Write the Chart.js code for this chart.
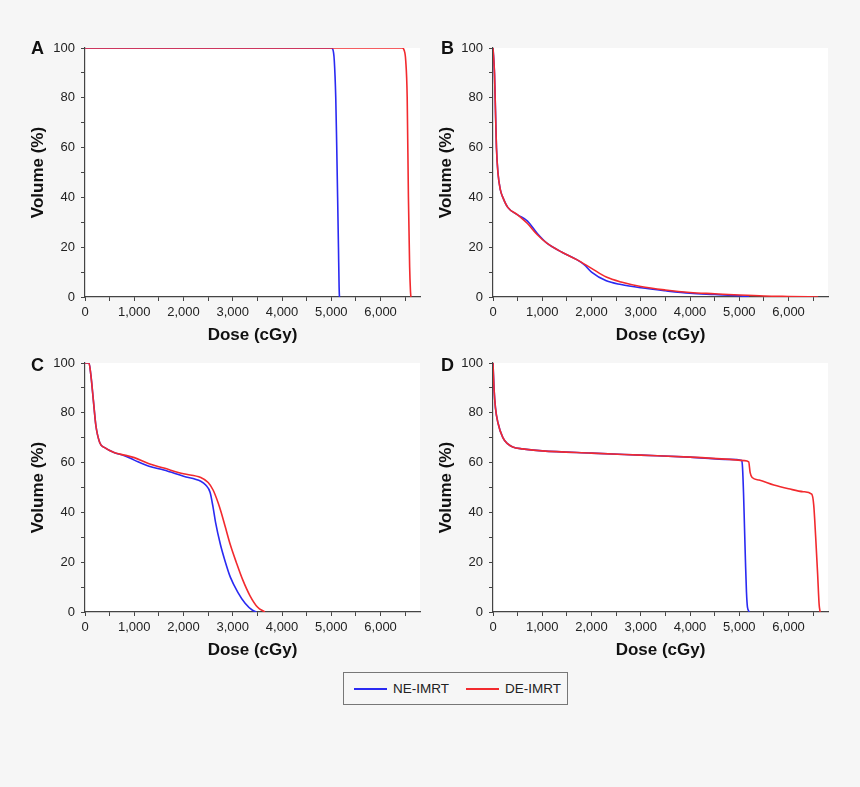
<!DOCTYPE html>
<html lang="en">
<head>
  <meta charset="UTF-8">
  <title>Dose-volume histograms</title>
  <script src="https://cdn.jsdelivr.net/npm/chart.js"></script>
  <style>
    body {
      margin: 0;
      padding: 0;
      background: #f6f6f6;
      font-family: 'Liberation Sans', Arial, Helvetica, sans-serif;
    }
    #page {
      position: relative;
      width: 860px;
      height: 787px;
    }
    canvas {
      position: absolute;
    }
    .letter {
      position: absolute;
      font-weight: bold;
      font-size: 18px;
      color: #111;
      line-height: 18px;
    }
    #legend {
      position: absolute;
      left: 343px;
      top: 672px;
      width: 223px;
      height: 31px;
      border: 1px solid #777;
      font-size: 13.5px;
      color: #222;
    }
    #legend .txt {
      position: absolute;
      top: 8px;
    }
    #legend .swatch {
      position: absolute;
      top: 15px;
      width: 33px;
      height: 2px;
    }
  </style>
</head>
<body>
<div id="page">
  <canvas id="chartA" width="410" height="320" style="left:20px;top:30px"></canvas>
  <canvas id="chartB" width="410" height="320" style="left:428px;top:30px"></canvas>
  <canvas id="chartC" width="410" height="320" style="left:20px;top:345px"></canvas>
  <canvas id="chartD" width="410" height="320" style="left:428px;top:345px"></canvas>
  <div class="letter" style="left:31px;top:39px">A</div>
  <div class="letter" style="left:441px;top:39px">B</div>
  <div class="letter" style="left:31px;top:356px">C</div>
  <div class="letter" style="left:441px;top:356px">D</div>
  <div id="legend">
    <div class="swatch" style="left:10px;background-color:#2a2af2"></div>
    <span class="txt" style="left:49px">NE-IMRT</span>
    <div class="swatch" style="left:122px;background-color:#f22a2e"></div>
    <span class="txt" style="left:161px">DE-IMRT</span>
  </div>
</div>
<script>
  const seriesNames = ['NE-IMRT', 'DE-IMRT'];
  const seriesColors = ['#2a2af2', '#f22a2e'];
  const doseTicks = [0, 500, 1000, 1500, 2000, 2500, 3000, 3500, 4000, 4500, 5000, 5500, 6000, 6500];
  const volumeTicks = [0, 10, 20, 30, 40, 50, 60, 70, 80, 90, 100];

  // Panel A
  const doseA_NE = [0, 5000, 5030, 5060, 5090, 5110, 5128, 5145, 5158, 5165];
  const volA_NE  = [100, 100, 99.5, 95, 80, 60, 40, 20, 4, 0];
  const doseA_DE = [0, 6440, 6480, 6510, 6540, 6565, 6590, 6605, 6615];
  const volA_DE  = [100, 100, 99, 95, 80, 40, 12, 3, 0];

  // Panel B
  const doseB_NE = [0, 30, 50, 70, 100, 150, 200, 300, 500, 700, 900, 1100, 1400, 1700, 1850, 2000, 2300, 2600, 3000, 3500, 4000, 4500, 5000, 5200];
  const volB_NE  = [100, 90, 75, 60, 50, 43, 40, 36, 33, 30.5, 25.5, 21.5, 18, 15, 13, 10, 6.5, 5, 3.7, 2.5, 1.5, 1, 0.5, 0];
  const doseB_DE = [0, 30, 50, 70, 100, 150, 200, 300, 500, 700, 900, 1100, 1400, 1700, 2000, 2300, 2600, 3000, 3500, 4000, 4500, 5000, 5500, 6000, 6600];
  const volB_DE  = [100, 90, 75, 60, 50, 43, 40, 36, 33, 29.5, 25, 21.5, 18, 15, 11.5, 8, 6, 4.2, 2.8, 1.8, 1.3, 0.8, 0.4, 0.2, 0];

  // Panel C
  const doseC_NE = [0, 80, 120, 170, 220, 300, 400, 600, 800, 1000, 1300, 1600, 2000, 2350, 2450, 2540, 2600, 2650, 2750, 2850, 2950, 3100, 3250, 3400, 3480];
  const volC_NE  = [100, 100, 95, 85, 75, 68, 66, 64, 62.8, 61, 58.5, 57, 54.5, 52.5, 51, 48, 42, 36, 27, 20, 14, 8, 3.5, 0.7, 0];
  const doseC_DE = [0, 80, 120, 170, 220, 300, 400, 600, 800, 1000, 1300, 1600, 2000, 2350, 2500, 2600, 2700, 2765, 2850, 2950, 3070, 3200, 3350, 3500, 3650];
  const volC_DE  = [100, 100, 95, 85, 75, 68, 66, 64, 63, 62, 59.5, 57.8, 55.5, 54, 52, 49, 44, 40, 34, 27, 20, 13, 6.5, 2, 0];

  // Panel D
  const doseD_NE = [0, 20, 50, 100, 200, 300, 400, 600, 1000, 2000, 3000, 4000, 4800, 5050, 5065, 5085, 5105, 5125, 5145, 5165, 5205];
  const volD_NE  = [100, 90, 82, 76, 70, 67.5, 66.3, 65.5, 64.7, 63.8, 63, 62.2, 61.3, 60.8, 58, 48, 34, 20, 8, 2, 0];
  const doseD_DE = [0, 20, 50, 100, 200, 300, 400, 600, 1000, 2000, 3000, 4000, 4800, 5100, 5190, 5220, 5260, 5400, 5700, 6000, 6300, 6470, 6510, 6550, 6590, 6620, 6640];
  const volD_DE  = [100, 90, 82, 76, 70, 67.5, 66.3, 65.5, 64.7, 63.8, 63, 62.2, 61.3, 60.8, 60.3, 56, 54, 53, 51, 49.5, 48.3, 47.3, 43, 30, 15, 3, 0];

  const tickFont = { family: "'Liberation Sans', Arial, sans-serif", size: 13 };
  const titleFont = { family: "'Liberation Sans', Arial, sans-serif", size: 17, weight: 'bold' };

  // white plot area on grey page
  const plotBackground = {
    id: 'plotBackground',
    beforeDraw(chart) {
      const { ctx, chartArea } = chart;
      ctx.save();
      ctx.fillStyle = '#ffffff';
      ctx.fillRect(chartArea.left, chartArea.top, chartArea.right - chartArea.left, chartArea.bottom - chartArea.top);
      ctx.restore();
    }
  };

  function points(dose, vol) {
    return dose.map((d, i) => ({ x: d, y: vol[i] }));
  }

  function makeChart(id, ne, de) {
    new Chart(document.getElementById(id), {
      type: 'line',
      data: {
        datasets: [
          { label: seriesNames[1], data: points(de[0], de[1]), borderColor: seriesColors[1] },
          { label: seriesNames[0], data: points(ne[0], ne[1]), borderColor: seriesColors[0] }
        ]
      },
      options: {
        responsive: false,
        animation: false,
        devicePixelRatio: 1,
        layout: { padding: { top: 18, right: 10, left: 0, bottom: 0 } },
        elements: {
          point: { radius: 0 },
          line: { borderWidth: 1.6, cubicInterpolationMode: 'monotone' }
        },
        plugins: {
          legend: { display: false },
          tooltip: { enabled: false }
        },
        scales: {
          x: {
            type: 'linear',
            min: 0,
            max: 6800,
            afterBuildTicks: (s) => { s.ticks = doseTicks.map(v => ({ value: v })); },
            afterFit: (s) => { s.height = 53; },
            ticks: {
              autoSkip: false,
              maxRotation: 0,
              padding: 4,
              color: '#222',
              font: tickFont,
              callback: (v) => v % 1000 === 0 ? v.toLocaleString('en-US') : ''
            },
            grid: { drawOnChartArea: false, tickLength: 4, color: '#444' },
            border: { color: '#444', width: 1.2 },
            title: { display: true, text: 'Dose (cGy)', color: '#111', font: titleFont, padding: { top: 0, bottom: 4 } }
          },
          y: {
            min: 0,
            max: 100,
            afterBuildTicks: (s) => { s.ticks = volumeTicks.map(v => ({ value: v })); },
            afterFit: (s) => { s.width = 65; },
            ticks: {
              autoSkip: false,
              padding: 6,
              color: '#222',
              font: tickFont,
              callback: (v) => v % 20 === 0 ? v : ''
            },
            grid: { drawOnChartArea: false, tickLength: 4, color: '#444' },
            border: { color: '#444', width: 1.2 },
            title: { display: true, text: 'Volume (%)', color: '#111', font: titleFont, padding: { top: 8, bottom: 0 } }
          }
        }
      },
      plugins: [plotBackground]
    });
  }

  makeChart('chartA', [doseA_NE, volA_NE], [doseA_DE, volA_DE]);
  makeChart('chartB', [doseB_NE, volB_NE], [doseB_DE, volB_DE]);
  makeChart('chartC', [doseC_NE, volC_NE], [doseC_DE, volC_DE]);
  makeChart('chartD', [doseD_NE, volD_NE], [doseD_DE, volD_DE]);
</script>
</body>
</html>
